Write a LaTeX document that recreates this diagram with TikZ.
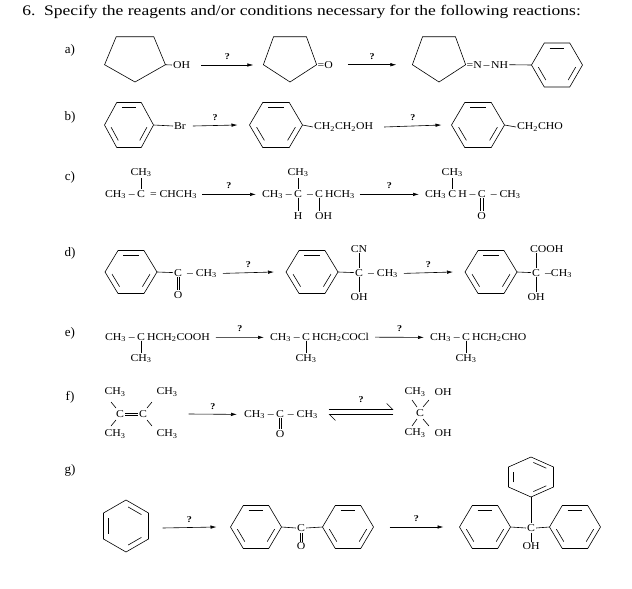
\documentclass[tikz,border=0pt]{standalone}
\usepackage{fontspec}
\setmainfont{Liberation Serif}
\newfontfamily\chemfont{Liberation Serif}[FakeStretch=1.12]
\newfontfamily\titlefont{Liberation Serif}[FakeStretch=1.2]
\usetikzlibrary{arrows.meta,calc}
\newcommand\ssb[1]{\textsubscript{#1}}
% ring: name, cx, cy, xr, yr, start angle
\newcommand\ring[6]{%
  \begin{scope}[shift={(#2,#3)}]
    \pgfmathsetmacro\rxi{0.78*#4}\pgfmathsetmacro\ryi{0.78*#5}
    \draw (#6:#4 and #5) coordinate (#1-0) -- (#6+60:#4 and #5) coordinate (#1-1)
      -- (#6+120:#4 and #5) coordinate (#1-2) -- (#6+180:#4 and #5) coordinate (#1-3)
      -- (#6+240:#4 and #5) coordinate (#1-4) -- (#6+300:#4 and #5) coordinate (#1-5) -- cycle;
    \foreach \a in {0,120,240}{
      \draw[shorten <=2.5pt,shorten >=2.5pt] (#6+\a:{\rxi} and {\ryi}) -- (#6+\a+60:{\rxi} and {\ryi});}
  \end{scope}}
% pentagon point down: name cx cy xr yr ; vertex 4 = right
\newcommand\pent[5]{%
  \begin{scope}[shift={(#2,#3)}]
    \draw (90:#4 and #5) coordinate (#1-0) -- (162:#4 and #5) coordinate (#1-1)
      -- (234:#4 and #5) coordinate (#1-2) -- (306:#4 and #5) coordinate (#1-3)
      -- (18:#4 and #5) coordinate (#1-4) -- cycle;
  \end{scope}}
% vertical double bond between two nodes
\newcommand\vdbl[2]{%
  \draw[line width=0.5pt] ([xshift=-1.2pt]#1.south) -- ([xshift=-1.2pt]#1.south |- #2.north);
  \draw[line width=0.5pt] ([xshift=1.2pt]#1.south) -- ([xshift=1.2pt]#1.south |- #2.north);}
\tikzset{
  ch/.style={font=\chemfont\fontsize{10.5}{12}\selectfont, inner sep=0.8pt, anchor=base west},
  lab/.style={font=\fontsize{13}{14}\selectfont, inner sep=0pt},
  q/.style={font=\chemfont\bfseries\fontsize{9}{10}\selectfont, inner sep=0pt},
  rx/.style={-{Latex[length=6pt,width=3.5pt]}, line width=0.6pt},
}
\begin{document}
\begin{tikzpicture}[x=1pt,y=-1pt, line width=0.6pt, line join=miter]
\useasboundingbox (0,0) rectangle (632,589);
\node[font=\titlefont\fontsize{14.6}{16}\selectfont, anchor=west, inner sep=0] (title) at (22,12)
  {6.\ \ Specify the reagents and/or conditions necessary for the following reactions:};
% labels
\node[lab] (la) at (70,50) {a)};
\node[lab] (lb) at (70,117) {b)};
\node[lab] (lc) at (70,177) {c)};
\node[lab] (ld) at (70,253) {d)};
\node[lab] (le) at (70,333) {e)};
\node[lab] (lf) at (70,397) {f)};
\node[lab] (lg) at (70,470) {g)};
% ---- a
\pent{pa}{135}{57}{32}{25}
\node[ch, anchor=west] (aoh) at (172,65) {OH};
\draw (pa-4) -- (aoh.west);
\pent{pb}{290}{57}{28}{25}
\node[ch, anchor=west] (ao) at (pb-4) {=O};
\draw[rx] ([xshift=10pt]aoh.east) -- ([xshift=-10pt]pb-1 |- aoh) node[q, midway, above=5pt] (qa1) {?};
\pent{pc}{439}{57}{28}{25}
\node[ch, anchor=west] (an) at (pc-4) {=N\,–\,NH};
\ring{ra}{557}{65}{25.5}{25.4}{0}
\draw (an.east) -- (ra-3);
\draw[rx] ([xshift=14pt]ao.east) -- ([xshift=-16pt]pc-1 |- ao) node[q, midway, above=5pt] (qa2) {?};
% ---- b
\ring{rb1}{129}{125}{24.5}{26}{0}
\node[ch, anchor=west] (bbr) at (173,126) {Br};
\draw (rb1-0) -- (bbr.west);
\ring{rb2}{276}{125}{26.5}{26}{0}
\draw[rx] ([xshift=6pt]bbr.east) -- ([xshift=-12pt]rb2-3) node[q, midway, above=5pt] (qb1) {?};
\node[ch, anchor=west] (bch) at (313,127) {CH\ssb{2}CH\ssb{2}OH};
\draw (rb2-0) -- (bch.west);
\ring{rb3}{478}{125}{26.5}{26}{0}
\draw[rx] ([xshift=10pt]bch.east) -- ([xshift=-10pt]rb3-3) node[q, midway, above=5pt] (qb2) {?};
\node[ch, anchor=west] (bcho) at (516,127) {CH\ssb{2}CHO};
\draw (rb3-0) -- (bcho.west);
% ---- c
\node[ch] (c1a) at (104,197) {CH\ssb{3}\ –};
\node[ch] (c1b) at (c1a.base east) {C};
\node[ch] (c1c) at (c1b.base east) {\ =\ CHCH\ssb{3}};
\node[ch, anchor=base] (c1t) at ([yshift=22pt]c1b.base) {CH\ssb{3}};
\draw (c1b.north) -- (c1t.south);
\node[ch] (c2a) at (261,197) {CH\ssb{3}\ –};
\node[ch] (c2b) at (c2a.base east) {C};
\node[ch] (c2c) at (c2b.base east) {\ –\ };
\node[ch] (c2d) at (c2c.base east) {C};
\node[ch] (c2e) at (c2d.base east) {HCH\ssb{3}};
\node[ch, anchor=base] (c2t) at ([yshift=22pt]c2b.base) {CH\ssb{3}};
\node[ch, anchor=base] (c2h) at ([yshift=-22pt]c2b.base) {H};
\node[ch, anchor=base west] (c2o) at ([yshift=-22pt]c2d.base west) {OH};
\draw (c2b.north) -- (c2t.south);
\draw (c2b.south) -- (c2h.north);
\draw (c2d.south) -- (c2d.south |- c2o.north);
\draw[rx] ([xshift=4pt]c1c.east) -- ([xshift=-5pt]c2a.west) node[q, midway, above=5pt] (qc1) {?};
\node[ch] (c3a) at (424,197) {CH\ssb{3}};
\node[ch] (c3b) at (c3a.base east) {C};
\node[ch] (c3c) at (c3b.base east) {H\ –\ };
\node[ch] (c3d) at (c3c.base east) {C};
\node[ch] (c3e) at (c3d.base east) {\ –\ CH\ssb{3}};
\node[ch, anchor=base] (c3t) at ([yshift=22pt]c3b.base) {CH\ssb{3}};
\node[ch, anchor=base] (c3o) at ([yshift=-22pt]c3d.base) {O};
\draw (c3b.north) -- (c3t.south);
\vdbl{c3d}{c3o}
\draw[rx] ([xshift=4pt]c2e.east) -- ([xshift=-5pt]c3a.west) node[q, midway, above=5pt] (qc2) {?};
% ---- d
\ring{rd1}{131}{272}{26}{24.8}{0}
\node[ch] (d1c) at (173,276) {C};
\node[ch] (d1m) at (d1c.base east) {\ –\ CH\ssb{3}};
\node[ch, anchor=base] (d1o) at ([yshift=-22pt]d1c.base) {O};
\draw (rd1-0) -- (d1c.west);
\vdbl{d1c}{d1o}
\ring{rd2}{312}{272}{26}{24.8}{0}
\draw[rx] ([xshift=5pt]d1m.east) -- ([xshift=-12pt]rd2-3) node[q, midway, above=5pt] (qd1) {?};
\node[ch] (d2c) at (354,276) {C};
\node[ch] (d2m) at (d2c.base east) {\ –\ CH\ssb{3}};
\node[ch, anchor=base] (d2t) at ([yshift=24pt]d2c.base) {CN};
\node[ch, anchor=base] (d2o) at ([yshift=-24pt]d2c.base) {OH};
\draw (rd2-0) -- (d2c.west);
\draw (d2c.north) -- (d2t.south);
\draw (d2c.south) -- (d2o.north);
\ring{rd3}{491}{272}{26}{24.8}{0}
\draw[rx] ([xshift=5pt]d2m.east) -- ([xshift=-12pt]rd3-3) node[q, midway, above=5pt] (qd2) {?};
\node[ch] (d3c) at (531,276) {C};
\node[ch] (d3m) at (d3c.base east) {\ –CH\ssb{3}};
\node[ch, anchor=base west] (d3t) at ([yshift=24pt, xshift=-2pt]d3c.base west) {COOH};
\node[ch, anchor=base] (d3o) at ([yshift=-24pt]d3c.base) {OH};
\draw (rd3-0) -- (d3c.west);
\draw (d3c.north) -- (d3c.north |- d3t.south);
\draw (d3c.south) -- (d3o.north);
% ---- e
\node[ch] (e1a) at (104,340) {CH\ssb{3}\ –\ };
\node[ch] (e1b) at (e1a.base east) {C};
\node[ch] (e1c) at (e1b.base east) {HCH\ssb{2}COOH};
\node[ch, anchor=base] (e1t) at ([yshift=-21pt]e1b.base) {CH\ssb{3}};
\draw (e1b.south) -- (e1t.north);
\node[ch] (e2a) at (269,340) {CH\ssb{3}\ –\ };
\node[ch] (e2b) at (e2a.base east) {C};
\node[ch] (e2c) at (e2b.base east) {HCH\ssb{2}COCl};
\node[ch, anchor=base] (e2t) at ([yshift=-21pt]e2b.base) {CH\ssb{3}};
\draw (e2b.south) -- (e2t.north);
\draw[rx] ([xshift=5pt]e1c.east) -- ([xshift=-5pt]e2a.west) node[q, midway, above=5pt] (qe1) {?};
\node[ch] (e3a) at (429,340) {CH\ssb{3}\ –\ };
\node[ch] (e3b) at (e3a.base east) {C};
\node[ch] (e3c) at (e3b.base east) {HCH\ssb{2}CHO};
\node[ch, anchor=base] (e3t) at ([yshift=-21pt]e3b.base) {CH\ssb{3}};
\draw (e3b.south) -- (e3t.north);
\draw[rx] ([xshift=5pt]e2c.east) -- ([xshift=-5pt]e3a.west) node[q, midway, above=5pt] (qe2) {?};
% ---- f
\node[ch, anchor=center] (f1L) at (120,414) {C};
\node[ch, anchor=center] (f1R) at (143,414) {C};
\draw[line width=0.5pt] ([yshift=1.2pt]f1L.east) -- ([yshift=1.2pt]f1R.west);
\draw[line width=0.5pt] ([yshift=-1.2pt]f1L.east) -- ([yshift=-1.2pt]f1R.west);
\node[ch, anchor=center] (f1tl) at (115,392) {CH\ssb{3}};
\node[ch, anchor=center] (f1tr) at (167,392) {CH\ssb{3}};
\node[ch, anchor=center] (f1bl) at (115,434) {CH\ssb{3}};
\node[ch, anchor=center] (f1br) at (167,434) {CH\ssb{3}};
\draw ($(f1L)+(-9,-12)$) -- ($(f1L)+(-4,-6)$);
\draw ($(f1R)+(4,-6)$) -- ($(f1R)+(9,-12)$);
\draw ($(f1L)+(-4,6)$) -- ($(f1L)+(-9,12)$);
\draw ($(f1R)+(4,6)$) -- ($(f1R)+(9,12)$);
\node[ch] (f2a) at (243,417) {CH\ssb{3}\ –\ };
\node[ch] (f2b) at (f2a.base east) {C};
\node[ch] (f2c) at (f2b.base east) {\,–\ CH\ssb{3}};
\node[ch, anchor=base] (f2o) at ([yshift=-20pt]f2b.base) {O};
\vdbl{f2b}{f2o}
\draw[rx] ([xshift=10pt]f1tr.east |- f1R) -- ([xshift=-6pt]f2a.west) node[q, midway, above=4pt] (qf1) {?};
\node[ch, anchor=center] (f3c) at (420,413) {C};
\node[ch, anchor=center] (f3tl) at (415,392) {CH\ssb{3}};
\node[ch, anchor=center] (f3tr) at (443,392) {OH};
\node[ch, anchor=center] (f3bl) at (415,433) {CH\ssb{3}};
\node[ch, anchor=center] (f3br) at (443,433) {OH};
\draw ($(f3c)+(-8,-13)$) -- ($(f3c)+(-3,-6)$);
\draw ($(f3c)+(3,-6)$) -- ($(f3c)+(9,-13)$);
\draw ($(f3c)+(-3,6)$) -- ($(f3c)+(-8,13)$);
\draw ($(f3c)+(3,6)$) -- ($(f3c)+(9,13)$);
\coordinate (eqL) at ([xshift=10pt]f2c.east);
\coordinate (eqR) at ([xshift=-10pt]f3tl.west |- f3c);
\draw[-{Straight Barb[left,length=6pt]}] ([yshift=3.5pt]eqL |- f3c) -- ([yshift=3.5pt]eqR);
\draw[-{Straight Barb[left,length=6pt]}] ([yshift=-1.5pt]eqR) -- ([yshift=-1.5pt]eqL |- f3c);
\node[q] (qf2) at ([yshift=13pt]$(eqL |- f3c)!0.5!(eqR)$) {?};
% ---- g
\ring{rg0}{126}{526}{26}{26}{30}
\ring{rg1}{256}{527}{25.5}{24.8}{0}
\node[ch, anchor=center] (gC) at (301,528) {C};
\node[ch, anchor=north] (gO) at ([yshift=-9pt]gC.south) {O};
\vdbl{gC}{gO}
\ring{rg2}{348}{527}{25.5}{24.8}{0}
\draw (rg1-0) -- (gC.west);
\draw (gC.east) -- (rg2-3);
\draw[rx] ([xshift=14pt]rg0-0 |- gC) -- ([xshift=-14pt]rg1-3) node[q, midway, above=5pt] (qg1) {?};
\ring{rg3}{485}{527}{25.5}{24.8}{0}
\node[ch, anchor=center] (tC) at (531,528) {C};
\node[ch, anchor=north] (tO) at ([yshift=-9pt]tC.south) {OH};
\draw (tC.south) -- (tO.north);
\ring{rg4}{575}{527}{25.5}{24.8}{0}
\ring{rg5}{531}{477}{26}{20}{30}
\draw (rg3-0) -- (tC.west);
\draw (tC.east) -- (rg4-3);
\draw (rg5-1) -- (tC.north);
\draw[rx] ([xshift=16pt]rg2-0) -- ([xshift=-16pt]rg3-3) node[q, midway, above=5pt] (qg2) {?};
\end{tikzpicture}
\end{document}
